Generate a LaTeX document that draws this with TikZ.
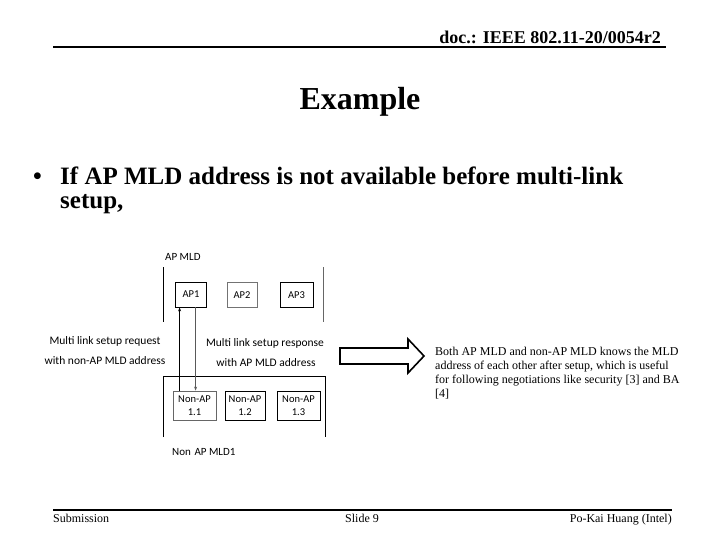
\documentclass[tikz,border=0pt]{standalone}
\usepackage{fontspec}
\setmainfont{Liberation Serif}
\newfontfamily\diagfont{Carlito}
\usetikzlibrary{arrows.meta,calc}
\begin{document}
\begin{tikzpicture}[x=1pt,y=-1pt,
  rule/.style={line width=2pt},
  hdr/.style={font=\bfseries\fontsize{18}{20}\selectfont, inner sep=0pt},
  foot/.style={font=\fontsize{12}{14}\selectfont, inner sep=0pt},
  dlabel/.style={font=\diagfont\fontsize{11.5}{13}\selectfont, inner sep=0pt},
  boxlabel/.style={font=\diagfont\fontsize{10.5}{12}\selectfont},
  apbox/.style={draw, line width=0.8pt, boxlabel, inner sep=0pt, minimum width=31pt, minimum height=25pt},
  stabox/.style={draw, line width=0.8pt, boxlabel, inner sep=0pt, minimum width=43pt, minimum height=29pt, align=center},
  mldline/.style={line width=0.8pt},
  msg/.style={line width=0.7pt, -{Stealth[length=4pt,width=3pt]}}
]
\useasboundingbox (0,0) rectangle (720,540);

% header
\node[hdr, anchor=base east] (doc) at (661,44) {doc.: IEEE 802.11-20/0054r2};
\coordinate (hl) at (53,47);
\coordinate (hr) at (666,47);
\draw[rule] (hl) -- (hr);

% title
\node[font=\bfseries\fontsize{32}{36}\selectfont, inner sep=0pt, anchor=base] (title) at (360,110) {Example};

% bullet
\node[font=\bfseries\fontsize{25}{28}\selectfont, inner sep=0pt, anchor=base west] (bul) at (33,185) {•};
\node[font=\bfseries\fontsize{25}{28}\selectfont, inner sep=0pt, anchor=base west] (b1) at (60,185) {If AP MLD address is not available before multi-link};
\node[font=\bfseries\fontsize{25}{28}\selectfont, inner sep=0pt, anchor=base west] (b2) at (60,209) {setup,};

% AP MLD
\node[dlabel, font=\diagfont\fontsize{11}{12}\selectfont, anchor=west] (apmld) at (165,257) {AP MLD};
\coordinate (aml1) at (163,267); \coordinate (aml2) at (163,322);
\coordinate (amr1) at (323,267); \coordinate (amr2) at (323,322);
\draw[mldline] (aml1) -- (aml2);
\draw[mldline, black!60] (amr1) -- (amr2);

\node[apbox] (ap1) at (191,294.5) {AP1};
\node[apbox, draw=black!55, minimum width=30pt] (ap2) at (242,295) {AP2};
\node[apbox, minimum width=33pt] (ap3) at (296.5,295) {AP3};

% non-AP MLD
\coordinate (nl1) at (163,376); \coordinate (nl2) at (163,437);
\coordinate (nr1) at (325,376); \coordinate (nr2) at (325,437);
\draw[mldline] (nl2) -- (nl1) -- (nr1) -- (nr2);

\node[stabox, draw=black!60] (n11) at (194.5,405.5) {Non-AP\\[1pt]1.1};
\node[stabox, minimum width=40pt] (n12) at (245,405.5) {Non-AP\\[1pt]1.2};
\node[stabox] (n13) at (298.5,405.5) {Non-AP\\[1pt]1.3};

\node[dlabel, font=\diagfont\fontsize{11}{12}\selectfont, anchor=west] (nmld) at (172,452) {Non\,\,AP MLD1};

% messages
\draw[msg] ([xshift=7pt]n11.north west) -- ([xshift=7pt]n11.north west |- ap1.south);
\draw[msg, black!65] ([xshift=23pt]n11.north west |- ap1.south) -- ([xshift=23pt]n11.north west);

\node[dlabel] (req1) at (105,341) {Multi link setup request};
\node[dlabel] (req2) at (105,361) {with non-AP MLD address};
\node[dlabel] (rsp1) at (265,343) {Multi link setup response};
\node[dlabel] (rsp2) at (266,363) {with AP MLD address};

% block arrow
\draw[line width=1.6pt, fill=white] (340,348) -- (408,348) -- (408,339) -- (424,356) -- (408,373) -- (408,364) -- (340,364) -- cycle;

% note
\node[font=\fontsize{12}{14}\selectfont, inner sep=0pt, anchor=north west, align=left] (note) at (435,347)
  {Both AP MLD and non-AP MLD knows the MLD\\address of each other after setup, which is useful\\for following negotiations like security [3] and BA\\{}[4]};

% footer
\coordinate (fl) at (53,510);
\coordinate (fr) at (672,510);
\draw[rule] (fl) -- (fr);
\node[foot, anchor=base west] (sub) at (53,522) {Submission};
\node[foot, anchor=base west] (slide) at (345,522) {Slide 9};
\node[foot, anchor=base east] (auth) at (672,522) {Po-Kai Huang (Intel)};
\end{tikzpicture}
\end{document}
